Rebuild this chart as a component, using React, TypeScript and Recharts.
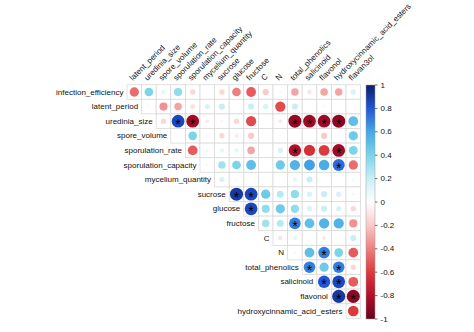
import React from 'react';
import { ScatterChart, Scatter, XAxis, YAxis, ZAxis } from 'recharts';

const rowLabels = [
  'infection_efficiency', 'latent_period', 'uredinia_size', 'spore_volume',
  'sporulation_rate', 'sporulation_capacity', 'mycelium_quantity', 'sucrose',
  'glucose', 'fructose', 'C', 'N', 'total_phenolics', 'salicinoid', 'flavonol',
  'hydroxycinnamic_acid_esters',
];

const colLabels = [
  'latent_period', 'uredinia_size', 'spore_volume', 'sporulation_rate',
  'sporulation_capacity', 'mycelium_quantity', 'sucrose', 'glucose', 'fructose',
  'C', 'N', 'total_phenolics', 'salicinoid', 'flavonol',
  'hydroxycinnamic_acid_esters', 'flavan3ol',
];

// each row i starts at column i
const corrRows: number[][] = [
  [-0.45, 0.4, 0.1, 0.35, -0.15, 0.02, -0.15, -0.4, -0.5, -0.2, 0.05, -0.3, -0.1, -0.3, -0.3, 0.15],
  [0.04, -0.35, -0.3, -0.12, 0.15, 0.2, 0.02, 0.2, 0.15, -0.55, 0.2, 0.0, 0.04, 0.0, 0.0],
  [-0.15, 0.85, -0.85, -0.08, -0.04, -0.15, -0.55, 0.0, -0.08, -0.88, -0.85, -0.85, -0.9, 0.5],
  [0.02, 0.4, 0.04, -0.15, -0.08, -0.2, 0.0, 0.02, 0.02, 0.0, -0.2, 0.0, 0.45],
  [-0.5, -0.05, 0.1, 0.1, -0.3, 0.0, 0.15, -0.8, -0.65, -0.6, -0.85, 0.4],
  [-0.03, 0.3, 0.4, 0.5, -0.02, 0.45, 0.55, 0.62, 0.58, 0.75, -0.45],
  [0.15, 0.05, 0.02, 0.0, 0.03, 0.1, 0.2, 0.02, 0.02, 0.05],
  [0.9, 0.85, 0.45, 0.25, 0.35, 0.15, 0.2, 0.15, -0.05],
  [0.85, 0.35, 0.45, 0.35, 0.15, 0.2, 0.15, -0.15],
  [0.3, 0.25, 0.7, 0.5, 0.55, 0.55, -0.35],
  [-0.1, 0.1, 0.03, -0.08, 0.02, 0.2],
  [0.05, 0.5, 0.7, 0.4, -0.5],
  [0.7, 0.45, 0.7, -0.15],
  [0.8, 0.85, -0.5],
  [0.9, -0.9],
  [-0.6],
];

// [row, column] of significant cells
const signifCells: [number, number][] = [
  [2, 3], [2, 4], [2, 11], [2, 12], [2, 13], [2, 14],
  [4, 11], [4, 14], [5, 14], [7, 7], [7, 8], [8, 8], [9, 11],
  [11, 13], [12, 12], [12, 14], [13, 13], [13, 14], [14, 14], [14, 15],
];

const legendTicks = [1, 0.8, 0.6, 0.4, 0.2, 0, -0.2, -0.4, -0.6, -0.8, -1];

const paletteStops: [number, string][] = [
  [-1, '#67001F'], [-0.8, '#B20F2A'], [-0.6, '#DC3A3C'], [-0.4, '#EF7E7E'],
  [-0.2, '#FAC9C9'], [0, '#FFFFFF'], [0.2, '#C9EFF6'], [0.4, '#7AD5E8'],
  [0.6, '#45A8E6'], [0.8, '#2256D6'], [1, '#0A1E6B'],
];

const W = 474;
const H = 332;
const MARGIN = { top: 84.7, right: 113.4, bottom: 13.7, left: 127 };
const N = colLabels.length;
const CELL = (W - MARGIN.left - MARGIN.right) / N;
const FONT = '"Liberation Sans", Arial, Helvetica, sans-serif';

const hex = (h: string) => [1, 3, 5].map((k) => parseInt(h.slice(k, k + 2), 16));
function colorFor(v: number): string {
  for (let k = 0; k < paletteStops.length - 1; k++) {
    const [v0, c0] = paletteStops[k];
    const [v1, c1] = paletteStops[k + 1];
    if (v >= v0 && v <= v1) {
      const t = (v - v0) / (v1 - v0);
      const a = hex(c0);
      const b = hex(c1);
      const m = a.map((x, q) => Math.round(x + (b[q] - x) * t));
      return `rgb(${m[0]},${m[1]},${m[2]})`;
    }
  }
  return '#FFFFFF';
}

const sigSet = new Set(signifCells.map(([i, j]) => `${i}-${j}`));

const cells = corrRows.flatMap((row, i) =>
  row.map((r, k) => {
    const j = i + k;
    return { x: j, y: i, r, a: Math.abs(r), sig: sigSet.has(`${i}-${j}`) };
  })
);

const rowLabelData = rowLabels.map((label, i) => ({ x: i, y: i, label }));
const colLabelData = colLabels.map((label, j) => ({ x: j, y: 0, label }));

const GridShape = (p: any) => (
  <rect
    x={p.cx - CELL / 2}
    y={p.cy - CELL / 2}
    width={CELL}
    height={CELL}
    fill="#FFFFFF"
    stroke="#D9D9D9"
    strokeWidth={0.8}
  />
);

const CircleShape = (p: any) => {
  const rad = (p.width || 0) / 2;
  const d = p.payload;
  return (
    <g>
      {rad > 0 && <circle cx={p.cx} cy={p.cy} r={rad} fill={colorFor(d.r)} />}
      {d.sig && (
        <text x={p.cx} y={p.cy + 7.6} textAnchor="middle" fontSize={14} fontFamily={FONT} fill="#000">
          *
        </text>
      )}
    </g>
  );
};

const RowLabelShape = (p: any) => (
  <text
    x={p.cx - CELL / 2 - 3.5}
    y={p.cy}
    textAnchor="end"
    dominantBaseline="central"
    fontSize={8}
    fontFamily={FONT}
    fill="#111"
  >
    {p.payload.label}
  </text>
);

const ColLabelShape = (p: any) => {
  const x = p.cx - 1.5;
  const y = p.cy - CELL / 2 - 3.7;
  return (
    <text
      x={x}
      y={y}
      transform={`rotate(-45 ${x} ${y})`}
      textAnchor="start"
      fontSize={8}
      fontFamily={FONT}
      fill="#111"
    >
      {p.payload.label}
    </text>
  );
};

const BAR_X = 366;
const BAR_W = 9;
const BAR_TOP = 85;
const BAR_BOTTOM = 319;
const barY = (v: number) => BAR_TOP + ((1 - v) / 2) * (BAR_BOTTOM - BAR_TOP);

const ColorBar = () => (
  <svg width={W} height={H} style={{ position: 'absolute', left: 0, top: 0, pointerEvents: 'none' }}>
    <defs>
      <linearGradient id="cbar" x1="0" y1="0" x2="0" y2="1">
        {paletteStops
          .slice()
          .reverse()
          .map(([v, c]) => (
            <stop key={v} offset={`${((1 - v) / 2) * 100}%`} stopColor={c} />
          ))}
      </linearGradient>
    </defs>
    <rect x={BAR_X} y={BAR_TOP} width={BAR_W} height={BAR_BOTTOM - BAR_TOP} fill="url(#cbar)" stroke="#9A9A9A" strokeWidth={0.5} />
    {legendTicks.map((v) => (
      <g key={v}>
        <line x1={BAR_X + BAR_W} x2={BAR_X + BAR_W + 2.5} y1={barY(v)} y2={barY(v)} stroke="#333" strokeWidth={0.7} />
        <text x={BAR_X + BAR_W + 5.5} y={barY(v)} dominantBaseline="central" fontSize={8} fontFamily={FONT} fill="#111">
          {String(v)}
        </text>
      </g>
    ))}
  </svg>
);

export default function App() {
  return (
    <div style={{ position: 'absolute', left: 0, top: 0, width: W, height: H, background: '#fff' }}>
      <ScatterChart width={W} height={H} margin={MARGIN}>
        <XAxis type="number" dataKey="x" domain={[-0.5, N - 0.5]} hide />
        <YAxis type="number" dataKey="y" domain={[-0.5, N - 0.5]} reversed hide />
        <ZAxis zAxisId="z" type="number" dataKey="a" domain={[0, 1]} range={[0, 150]} />
        <Scatter data={cells} shape={GridShape} isAnimationActive={false} />
        <Scatter data={cells} zAxisId="z" shape={CircleShape} isAnimationActive={false} />
        <Scatter data={rowLabelData} shape={RowLabelShape} isAnimationActive={false} />
        <Scatter data={colLabelData} shape={ColLabelShape} isAnimationActive={false} />
      </ScatterChart>
      <ColorBar />
    </div>
  );
}
